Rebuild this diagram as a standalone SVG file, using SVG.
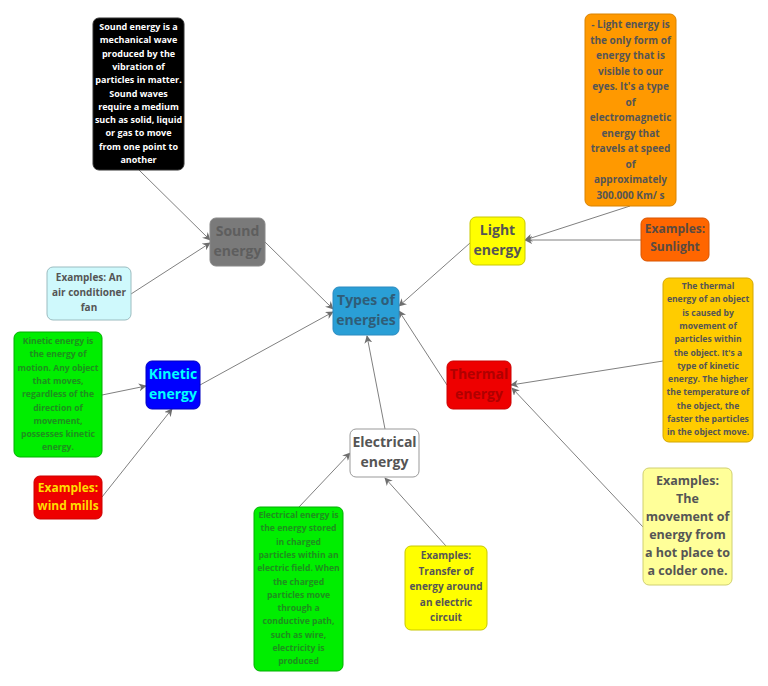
<svg xmlns="http://www.w3.org/2000/svg" width="768" height="686" viewBox="0 0 768 686">
<defs>
<marker id="ar" viewBox="0 0 10 10" refX="9" refY="5" markerWidth="8" markerHeight="8" orient="auto-start-reverse" markerUnits="userSpaceOnUse"><path d="M0,0 L10,5 L0,10 L3,5 z" fill="#6e6e6e"/></marker>
</defs>
<style>
text{font-family:"Open Sans","Noto Sans",sans-serif;font-weight:bold;text-anchor:middle}
.c line{stroke:#808080;stroke-width:1;marker-end:url(#ar)}
rect{rx:6;ry:6;stroke-width:1}
.big{font-size:14px}
.sm{font-size:8.6px}
</style>
<rect width="768" height="686" fill="#fff" style="rx:0"/>
<g class="c">
<line x1="139" y1="170" x2="210" y2="240"/>
<line x1="131" y1="294" x2="210" y2="243"/>
<line x1="265" y1="242" x2="333" y2="309"/>
<line x1="470" y1="243" x2="399" y2="306"/>
<line x1="630" y1="206" x2="525" y2="240"/>
<line x1="641" y1="240" x2="525" y2="240"/>
<line x1="663" y1="361" x2="511" y2="385"/>
<line x1="643" y1="527" x2="512" y2="388"/>
<line x1="447" y1="385" x2="399" y2="311"/>
<line x1="200" y1="385" x2="333" y2="312"/>
<line x1="102" y1="395" x2="146" y2="386"/>
<line x1="102" y1="497" x2="172" y2="409"/>
<line x1="385" y1="429" x2="367" y2="336"/>
<line x1="299" y1="507" x2="350" y2="453"/>
<line x1="446" y1="546" x2="385" y2="478"/>
</g>
<g id="sound-desc"><rect x="93" y="18" width="91" height="152" fill="#000" stroke="#333"/>
<text font-size="9" fill="#fff"><tspan x="138.5" y="30">Sound energy is a</tspan><tspan x="138.5" y="43.3">mechanical wave</tspan><tspan x="138.5" y="56.6">produced by the</tspan><tspan x="138.5" y="69.9">vibration of</tspan><tspan x="138.5" y="83.2">particles in matter.</tspan><tspan x="138.5" y="96.5">Sound waves</tspan><tspan x="138.5" y="109.8">require a medium</tspan><tspan x="138.5" y="123.1">such as solid, liquid</tspan><tspan x="138.5" y="136.4">or gas to move</tspan><tspan x="138.5" y="149.7">from one point to</tspan><tspan x="138.5" y="163">another</tspan></text></g>
<g id="sound"><rect x="210" y="218" width="55" height="48" fill="#7a7a7a" stroke="#888"/>
<text class="big" fill="#5e5e5e"><tspan x="237.5" y="236">Sound</tspan><tspan x="237.5" y="256">energy</tspan></text></g>
<g id="aircond"><rect x="47" y="267" width="84" height="53" fill="#cff9fc" stroke="#9bbcc0"/>
<text font-size="10" fill="#555"><tspan x="89" y="281">Examples: An</tspan><tspan x="89" y="296">air conditioner</tspan><tspan x="89" y="311">fan</tspan></text></g>
<g id="types"><rect x="333" y="287" width="66" height="48" fill="#2a9fd6" stroke="#2a8ac0"/>
<text class="big" fill="#2f5d78"><tspan x="366" y="305">Types of</tspan><tspan x="366" y="325">energies</tspan></text></g>
<g id="light-desc"><rect x="585" y="14" width="91" height="192" fill="#ff9900" stroke="#d98200"/>
<text font-size="10" fill="#555"><tspan x="630.5" y="28">- Light energy is</tspan><tspan x="630.5" y="43.5">the only form of</tspan><tspan x="630.5" y="59">energy that is</tspan><tspan x="630.5" y="74.5">visible to our</tspan><tspan x="630.5" y="90">eyes.  It's a type</tspan><tspan x="630.5" y="105.5">of</tspan><tspan x="630.5" y="121">electromagnetic</tspan><tspan x="630.5" y="136.5">energy that</tspan><tspan x="630.5" y="152">travels at speed</tspan><tspan x="630.5" y="167.5">of</tspan><tspan x="630.5" y="183">approximately</tspan><tspan x="630.5" y="198.5">300.000 Km/ s</tspan></text></g>
<g id="light"><rect x="470" y="217" width="55" height="48" fill="#ffff00" stroke="#c8c800"/>
<text class="big" fill="#555"><tspan x="497.5" y="235">Light</tspan><tspan x="497.5" y="255">energy</tspan></text></g>
<g id="sunlight"><rect x="641" y="218" width="68" height="43" fill="#ff6600" stroke="#d85500"/>
<text font-size="12" fill="#5a4a40"><tspan x="675" y="233">Examples:</tspan><tspan x="675" y="251">Sunlight</tspan></text></g>
<g id="thermal-desc"><rect x="663" y="278" width="90" height="164" fill="#ffcc00" stroke="#d4a800"/>
<text class="sm" fill="#555"><tspan x="708" y="289">The thermal</tspan><tspan x="708" y="302.3">energy of an object</tspan><tspan x="708" y="315.6">is caused by</tspan><tspan x="708" y="328.9">movement of</tspan><tspan x="708" y="342.2">particles within</tspan><tspan x="708" y="355.5">the object. It's a</tspan><tspan x="708" y="368.8">type of kinetic</tspan><tspan x="708" y="382.1">energy. The higher</tspan><tspan x="708" y="395.4">the temperature of</tspan><tspan x="708" y="408.7">the object, the</tspan><tspan x="708" y="422">faster the particles</tspan><tspan x="708" y="435.3">in the object move.</tspan></text></g>
<g id="thermal"><rect x="447" y="361" width="64" height="48" fill="#ee0000" stroke="#c00"/>
<text class="big" fill="#b00000"><tspan x="479" y="379">Thermal</tspan><tspan x="479" y="399">energy</tspan></text></g>
<g id="thermal-ex"><rect x="643" y="468" width="89" height="117" fill="#ffff99" stroke="#d0d070"/>
<text font-size="12.5" fill="#555"><tspan x="687.5" y="485">Examples:</tspan><tspan x="687.5" y="503">The</tspan><tspan x="687.5" y="521">movement of</tspan><tspan x="687.5" y="539">energy from</tspan><tspan x="687.5" y="557">a hot place to</tspan><tspan x="687.5" y="575">a colder one.</tspan></text></g>
<g id="kinetic-desc"><rect x="14" y="332" width="88" height="125" fill="#00ee00" stroke="#00b000"/>
<text class="sm" fill="#1f8f1f"><tspan x="58" y="344">Kinetic energy is</tspan><tspan x="58" y="357.3">the energy of</tspan><tspan x="58" y="370.6">motion. Any object</tspan><tspan x="58" y="383.9">that moves,</tspan><tspan x="58" y="397.2">regardless of the</tspan><tspan x="58" y="410.5">direction of</tspan><tspan x="58" y="423.8">movement,</tspan><tspan x="58" y="437.1">possesses kinetic</tspan><tspan x="58" y="450.4">energy.</tspan></text></g>
<g id="kinetic"><rect x="146" y="361" width="54" height="48" fill="#0000ff" stroke="#0000c0"/>
<text class="big" fill="#00ffff"><tspan x="173" y="379">Kinetic</tspan><tspan x="173" y="399">energy</tspan></text></g>
<g id="windmills"><rect x="34" y="476" width="68" height="43" fill="#ee0000" stroke="#c00"/>
<text font-size="12" fill="#ffdd00"><tspan x="68" y="492">Examples:</tspan><tspan x="68" y="510">wind mills</tspan></text></g>
<g id="electrical"><rect x="350" y="429" width="69" height="48" fill="#fff" stroke="#999"/>
<text class="big" fill="#555"><tspan x="384.5" y="447">Electrical</tspan><tspan x="384.5" y="467">energy</tspan></text></g>
<g id="electrical-desc"><rect x="254" y="507" width="89" height="164" fill="#00ee00" stroke="#00b000"/>
<text class="sm" fill="#1f8f1f"><tspan x="298.5" y="518">Electrical energy is</tspan><tspan x="298.5" y="531.3">the energy stored</tspan><tspan x="298.5" y="544.6">in charged</tspan><tspan x="298.5" y="557.9">particles within an</tspan><tspan x="298.5" y="571.2">electric field. When</tspan><tspan x="298.5" y="584.5">the charged</tspan><tspan x="298.5" y="597.8">particles move</tspan><tspan x="298.5" y="611.1">through a</tspan><tspan x="298.5" y="624.4">conductive path,</tspan><tspan x="298.5" y="637.7">such as wire,</tspan><tspan x="298.5" y="651">electricity is</tspan><tspan x="298.5" y="664.3">produced</tspan></text></g>
<g id="electric-ex"><rect x="405" y="546" width="82" height="84" fill="#ffff00" stroke="#c8c800"/>
<text font-size="10" fill="#555"><tspan x="446" y="559">Examples:</tspan><tspan x="446" y="574.5">Transfer of</tspan><tspan x="446" y="590">energy around</tspan><tspan x="446" y="605.5">an electric</tspan><tspan x="446" y="621">circuit</tspan></text></g>
</svg>
